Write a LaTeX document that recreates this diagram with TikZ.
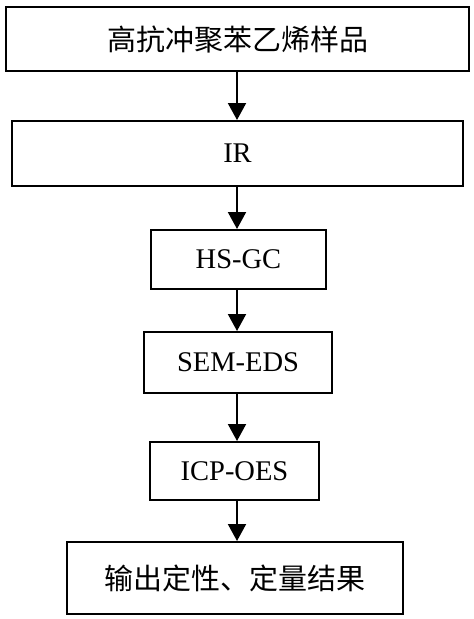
\documentclass[tikz,border=0pt]{standalone}
\usepackage{fontspec}
\setmainfont{Liberation Serif}
\newfontfamily\cjk{Noto Sans CJK SC}
\usetikzlibrary{arrows.meta}
\begin{document}
\begin{tikzpicture}[x=1pt,y=-1pt,
  box/.style={draw, line width=2pt, rectangle, inner sep=0pt, font=\fontsize{28.5}{32}\selectfont},
  cbox/.style={box, font=\cjk\fontsize{29}{33}\selectfont},
  arr/.style={line width=2pt, -{Triangle[length=17pt,width=18pt]}, shorten >=0pt}]
\useasboundingbox (0,0) rectangle (474,619);
\node[cbox, minimum width=463pt, minimum height=64pt] (b1) at (237.5,39) {高抗冲聚苯乙烯样品};
\node[box, minimum width=451pt, minimum height=65pt] (b2) at (237.5,153.5) {IR};
\node[box, minimum width=175pt, minimum height=59pt] (b3) at (238.5,259.5) {HS-GC};
\node[box, minimum width=188pt, minimum height=61pt] (b4) at (238,362.5) {SEM-EDS};
\node[box, minimum width=169pt, minimum height=58pt] (b5) at (234.5,471) {ICP-OES};
\node[cbox, minimum width=336pt, minimum height=72pt] (b6) at (235,578) {输出定性、定量结果};
\coordinate (ax) at (237,0);
\draw[arr] (b1.south -| ax) -- (b2.north -| ax);
\draw[arr] (b2.south -| ax) -- (b3.north -| ax);
\draw[arr] (b3.south -| ax) -- (b4.north -| ax);
\draw[arr] (b4.south -| ax) -- (b5.north -| ax);
\draw[arr] (b5.south -| ax) -- (b6.north -| ax);
\end{tikzpicture}
\end{document}
